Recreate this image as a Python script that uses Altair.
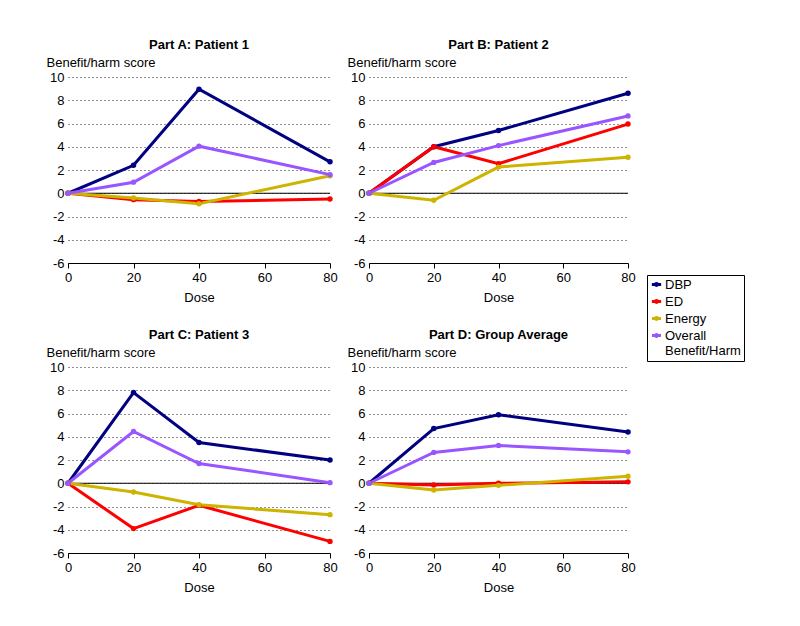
import altair as alt
import pandas as pd

doses = [0, 20, 40, 80]
series = ["DBP", "ED", "Energy", "Overall Benefit/Harm"]
colors = ["#000080", "#ff0000", "#ccb400", "#9955ff"]
titles = ["Part A: Patient 1", "Part B: Patient 2", "Part C: Patient 3", "Part D: Group Average"]

dbp = [[0, 2.4, 8.95, 2.7], [0, 4.0, 5.4, 8.6], [0, 7.8, 3.5, 2.0], [0, 4.7, 5.9, 4.4]]
ed = [[0, -0.55, -0.7, -0.5], [0, 4.0, 2.55, 5.95], [0, -3.9, -1.9, -5.0], [0, -0.15, 0.0, 0.12]]
energy = [[0, -0.4, -0.9, 1.5], [0, -0.6, 2.25, 3.1], [0, -0.75, -1.85, -2.7], [0, -0.58, -0.18, 0.6]]
overall = [[0, 0.95, 4.05, 1.6], [0, 2.65, 4.1, 6.65], [0, 4.45, 1.7, 0.05], [0, 2.65, 3.25, 2.7]]

rows = []
for p, t in enumerate(titles):
    for s, vals in zip(series, [dbp[p], ed[p], energy[p], overall[p]]):
        for d, v in zip(doses, vals):
            rows.append({"panel": t, "series": s, "dose": d, "value": v})
df = pd.DataFrame(rows)
zero_df = pd.DataFrame({"value": [0]})

FONT = "Liberation Sans"
yscale = alt.Scale(domain=[-6, 10], nice=False, zero=False)
xscale = alt.Scale(domain=[0, 80], nice=False, zero=False)

legend = alt.Legend(
    title=None, orient="none", legendX=579, legendY=198,
    strokeColor="black", padding=3, fillColor="white",
    labelFontSize=13, labelFont=FONT, labelColor="black",
    labelOffset=2, rowPadding=2, labelLimit=200,
    symbolType="M-1.7,0L1.7,0M-0.35,0A0.35,0.35,0,1,0,0.35,0A0.35,0.35,0,1,0,-0.35,0",
    symbolSize=144, symbolStrokeWidth=3, symbolFillColor="transparent",
    labelExpr="datum.label == 'Overall Benefit/Harm' ? ['Overall', 'Benefit/Harm'] : datum.label",
)

xaxis = alt.Axis(
    values=[0, 20, 40, 60, 80], title="Dose", grid=False, domain=True,
    domainColor="black", ticks=True, tickColor="black", tickSize=5,
    labelPadding=3, labelFlush=False, titlePadding=7,
    labelFontSize=13, titleFontSize=13, titleFontWeight="normal",
    labelColor="black", titleColor="black")
yaxis = alt.Axis(
    values=list(range(-6, 11, 2)), title="Benefit/harm score", grid=True,
    labelExpr="'' + datum.value",
    gridDash=[1, 3], gridColor="#222222", gridWidth=1, domain=False, ticks=False,
    labelPadding=4, labelFontSize=13, titleFontSize=13, titleFontWeight="normal",
    titleAngle=0, titleX=-22, titleY=-11, titleAlign="left",
    titleBaseline="alphabetic", labelColor="black", titleColor="black")


def panel(title, width):
    base = alt.Chart(df).transform_filter(alt.datum.panel == title)
    x = alt.X("dose:Q", scale=xscale, axis=xaxis)
    y = alt.Y("value:Q", scale=yscale, axis=yaxis)
    zero = alt.Chart(zero_df).mark_rule(color="black", strokeWidth=1).encode(y=y)
    lines = base.mark_line().encode(
        x=x, y=y,
        stroke=alt.Stroke("series:N", scale=alt.Scale(domain=series, range=colors), legend=legend),
        strokeWidth=alt.StrokeWidth("series:N", scale=alt.Scale(domain=series, range=[3, 3, 2.5, 3.5]), legend=None),
    )
    points = base.mark_circle(opacity=1).encode(
        x=x, y=y,
        fill=alt.Fill("series:N", scale=alt.Scale(domain=series, range=colors), legend=None),
        size=alt.Size("series:N", scale=alt.Scale(domain=series, range=[30, 28, 22, 55]), legend=None),
    )
    return alt.layer(zero, lines, points).properties(
        width=width, height=186,
        title=alt.Title(title, anchor="middle", frame="group", fontSize=13,
                        fontWeight="bold", font=FONT, offset=4, color="black"),
    )


chart = alt.concat(
    panel(titles[0], 262), panel(titles[1], 259),
    panel(titles[2], 262), panel(titles[3], 259),
    columns=2, spacing={"row": 104, "column": 39}, bounds="flush",
).properties(
    padding={"left": 38, "top": 31, "right": 5, "bottom": 5},
    background="white",
).configure(font=FONT).configure_view(stroke=None)

chart.save("out.html", embed_options={"renderer": "svg", "actions": False})
